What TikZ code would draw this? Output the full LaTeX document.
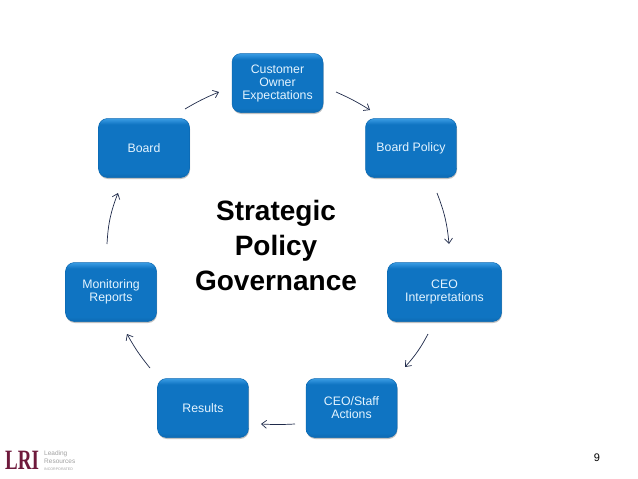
\documentclass[tikz,border=0pt]{standalone}
\usepackage{fontspec}
\setmainfont{Liberation Sans}
\newfontfamily\logofont{Liberation Serif}
\usetikzlibrary{arrows.meta,shadows}
\definecolor{boxblue}{HTML}{0F74C2}
\definecolor{boxtop}{HTML}{3A9CE4}
\definecolor{boxlow}{HTML}{0C68B0}
\definecolor{boxedge}{HTML}{0B69B2}
\definecolor{boxtext}{HTML}{E4F4FF}
\definecolor{arrowink}{HTML}{1F2A4A}
\definecolor{logored}{HTML}{6E1A3C}
\definecolor{logogrey}{HTML}{A0A0A0}
\pgfdeclareverticalshading{boxshade}{100bp}{
  color(0bp)=(boxlow); color(24bp)=(boxlow); color(29bp)=(boxblue); color(70bp)=(boxblue); color(75bp)=(boxtop); color(100bp)=(boxtop)}
\tikzset{
  x=1pt,y=-1pt,
  govbox/.style={rounded corners=9pt,minimum width=91pt,minimum height=59pt,inner sep=0pt,
    shading=boxshade,draw=boxedge,line width=0.5pt,
    text=boxtext,align=center,font=\fontsize{12.3}{13}\selectfont,
    drop shadow={shadow xshift=0.5pt,shadow yshift=-1.5pt,opacity=0.35,fill=black!70}},
  cyc/.style={draw=arrowink,line width=0.7pt,-{Straight Barb[length=5pt,width=8pt,line width=0.7pt]}},
  title/.style={align=center,font=\bfseries\fontsize{28}{35}\selectfont,text=black}
}
\begin{document}
\begin{tikzpicture}
\useasboundingbox (0,0) rectangle (638,479);
\node[govbox] (cust) at (277.5,83) {Customer\\Owner\\Expectations};
\node[govbox] (policy) at (411,148) {Board Policy};
\node[govbox,minimum width=114pt] (ceo) at (444.5,292) {CEO\\Interpretations};
\node[govbox] (staff) at (351.5,408) {CEO/Staff\\Actions};
\node[govbox] (results) at (203,408) {Results};
\node[govbox] (monitor) at (111,292) {Monitoring\\Reports};
\node[govbox] (board) at (144,148) {Board};
\node[title] (gov) at (276,245.5) {Strategic\\Policy\\Governance};
\coordinate (a1) at (185,109); \coordinate (b1) at (219,92);
\coordinate (a2) at (336,92); \coordinate (b2) at (370,110);
\coordinate (a3) at (437,193); \coordinate (b3) at (449,244);
\coordinate (a4) at (428,334); \coordinate (b4) at (405,367);
\coordinate (a5) at (295,424); \coordinate (b5) at (261,424);
\coordinate (a6) at (150,368); \coordinate (b6) at (127,334);
\coordinate (a7) at (107,244); \coordinate (b7) at (118,193);
\draw[cyc] (a1) to[bend left=4] (b1);
\draw[cyc] (a2) to[bend left=4] (b2);
\draw[cyc] (a3) to[bend left=8] (b3);
\draw[cyc] (a4) to[bend left=7] (b4);
\draw[cyc] (a5) to[bend left=3] (b5);
\draw[cyc] (a6) to[bend left=5] (b6);
\draw[cyc] (a7) to[bend left=9] (b7);
\node[font=\fontsize{11}{12}\selectfont,text=black] (page) at (597,458) {9};
\node[font=\logofont\bfseries\fontsize{28}{28}\selectfont,text=logored,inner sep=0pt,xscale=0.68] (lri) at (22,460) {LRI};
\node[anchor=west,inner sep=0pt,text=logogrey,font=\fontsize{6.5}{7}\selectfont] (lead) at (44,453.5) {Leading};
\node[anchor=west,inner sep=0pt,text=logogrey,font=\fontsize{6.5}{7}\selectfont] (res) at (44,461.5) {Resources};
\node[anchor=west,inner sep=0pt,text=logogrey,font=\fontsize{3.6}{4}\selectfont] (inc) at (44,469.5) {INCORPORATED};
\end{tikzpicture}
\end{document}
